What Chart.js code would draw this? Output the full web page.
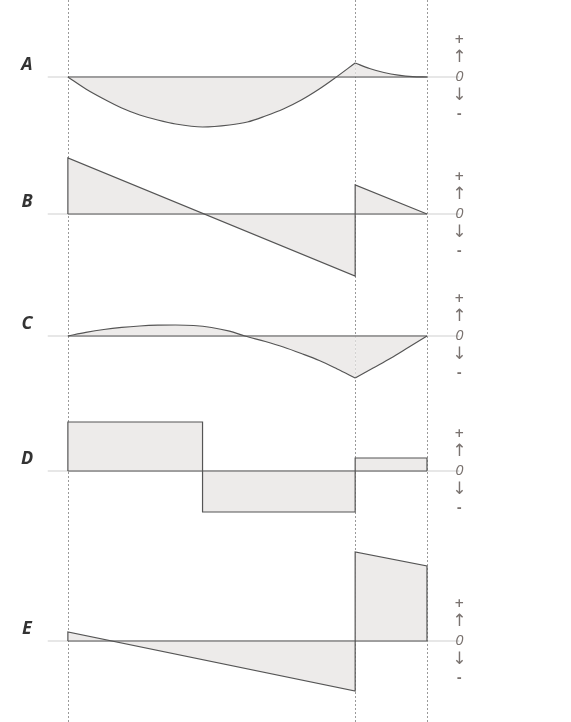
<!DOCTYPE html>
<html><head><meta charset="utf-8">
<script src="https://cdn.jsdelivr.net/npm/chart.js@4"></script>
<style>html,body{margin:0;padding:0;background:#fff}#wrap{width:571px;height:722px}</style>
</head><body><div id="wrap"><canvas id="c"></canvas></div>
<script>
// panel names, top to bottom
const panels = ['A', 'B', 'C', 'D', 'E'];
// supports at x = 0, 8, 10
const supports = [0, 8, 10];
// series (x, value); curved panels split at the middle support
const seriesA1 = [[0,0],[0.5,-12],[1,-22],[1.5,-31],[2,-38],[2.5,-43],[3,-47],[3.75,-50],[4.5,-48],[5,-45],[5.5,-39],[6,-32],[6.5,-23],[7,-12],[7.4,-2],[8,14]];
const seriesA2 = [[8,14],[8.4,8.5],[8.8,4.5],[9.2,1.8],[9.6,0.3],[10,0]];
const seriesB = [[0,0],[0,56],[8,-62],[8,29],[10,0]];
const seriesC1 = [[0,0],[0.5,3.6],[1,6.5],[1.5,8.6],[2,10],[2.5,10.8],[3,11],[3.5,10.5],[4,8.5],[4.5,4.8],[4.93,0],[5.5,-5.5],[6,-11],[6.5,-17.5],[7,-24.5],[7.5,-33],[8,-42]];
const seriesC2 = [[8,-42],[8.5,-32],[9,-22],[9.5,-11],[10,0]];
const seriesD = [[0,0],[0,49],[3.75,49],[3.75,-41],[8,-41],[8,13],[10,13],[10,0]];
const seriesE = [[0,0],[0,9],[8,-50],[8,89],[10,75],[10,0]];
const parts = [
    { panel: 0, data: seriesA1, smooth: true },
    { panel: 0, data: seriesA2, smooth: true },
    { panel: 1, data: seriesB, smooth: false },
    { panel: 2, data: seriesC1, smooth: true },
    { panel: 2, data: seriesC2, smooth: true },
    { panel: 3, data: seriesD, smooth: false },
    { panel: 4, data: seriesE, smooth: false }
];
// y ranges per panel [min, max]
const ranges = [[-68, 77], [-68, 69], [-69, 54], [-74, 66], [-81, 96]];
const signLabels = ['+', '\u2191', '0', '\u2193', '-'];

const scales = {
    x: { type: 'linear', min: -1.89, max: 14.01, display: false }
};
// stacked axes are laid out bottom-up, so add them in reverse
for (let i = panels.length - 1; i >= 0; i--) {
    scales['y' + i] = {
        type: 'linear', min: ranges[i][0], max: ranges[i][1],
        display: false, stack: 'v', stackWeight: ranges[i][1] - ranges[i][0],
        position: 'left', offset: false
    };
}

const datasets = parts.map(p => ({
    data: p.data.map(([x, y]) => ({ x, y })),
    yAxisID: 'y' + p.panel,
    borderColor: '#555',
    borderWidth: 1.2,
    backgroundColor: '#edebea',
    fill: 'origin',
    pointRadius: 0,
    cubicInterpolationMode: p.smooth ? 'monotone' : 'default',
    tension: 0
}));

const decorPlugin = {
    id: 'decor',
    beforeDatasetsDraw(chart) {
        const ctx = chart.ctx, xs = chart.scales.x;
        ctx.save();
        panels.forEach((p, i) => {
            const y = chart.scales['y' + i].getPixelForValue(0);
            ctx.strokeStyle = '#cfcfcf';
            ctx.lineWidth = 1;
            ctx.beginPath();
            ctx.moveTo(xs.getPixelForValue(-0.56), y);
            ctx.lineTo(xs.getPixelForValue(10.9), y);
            ctx.stroke();
        });
        ctx.strokeStyle = '#9a9a9a';
        ctx.setLineDash([2, 2]);
        supports.forEach(s => {
            const x = Math.round(xs.getPixelForValue(s)) + 0.5;
            ctx.beginPath();
            ctx.moveTo(x, chart.chartArea.top);
            ctx.lineTo(x, chart.chartArea.bottom);
            ctx.stroke();
        });
        ctx.restore();
    },
    afterDatasetsDraw(chart) {
        const ctx = chart.ctx, xs = chart.scales.x;
        ctx.save();
        ctx.textAlign = 'center';
        ctx.textBaseline = 'middle';
        panels.forEach((p, i) => {
            const y = chart.scales['y' + i].getPixelForValue(0);
            // dark baseline between the end supports
            ctx.strokeStyle = '#555';
            ctx.lineWidth = 1.2;
            ctx.beginPath();
            ctx.moveTo(xs.getPixelForValue(0), y);
            ctx.lineTo(xs.getPixelForValue(10), y);
            ctx.stroke();
            ctx.fillStyle = '#333';
            ctx.font = 'italic bold 18px "Open Sans", sans-serif';
            ctx.fillText(p, 27, y - 12);
            ctx.fillStyle = '#7a7370';
            const lx = xs.getPixelForValue(10.9);
            [-37, -19, 0, 19, 38].forEach((dy, k) => {
                ctx.font = k === 2 ? 'italic 15px "Open Sans", sans-serif'
                    : (k === 1 || k === 3) ? '17px "DejaVu Sans", sans-serif' : 'bold 12px "DejaVu Sans", sans-serif';
                ctx.fillText(signLabels[k], lx, y + dy);
            });
        });
        ctx.restore();
    }
};

new Chart(document.getElementById('c'), {
    type: 'line',
    data: { datasets },
    options: {
        responsive: true,
        maintainAspectRatio: false,
        animation: false,
        layout: { padding: 0 },
        plugins: { legend: { display: false }, tooltip: { enabled: false } },
        scales
    },
    plugins: [decorPlugin]
});
</script>
</body></html>
